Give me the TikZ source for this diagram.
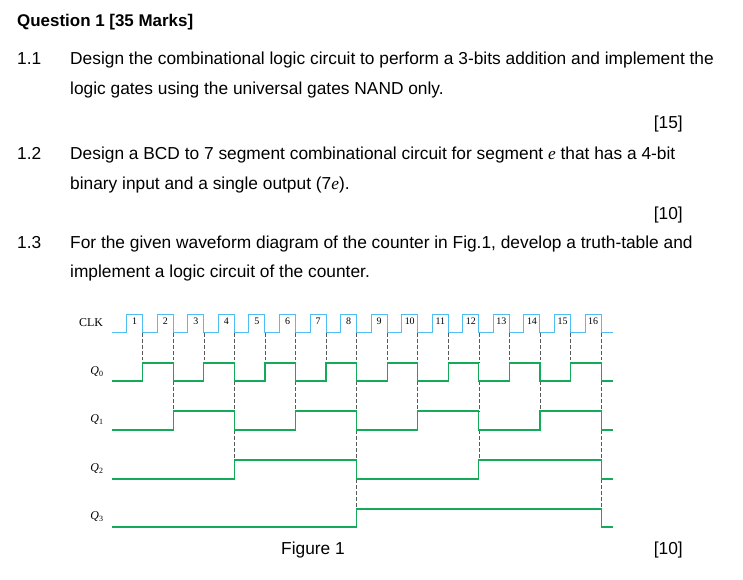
\documentclass[tikz,border=0pt]{standalone}
\usepackage{fontspec}
\setmainfont{Liberation Sans}
\newfontfamily\serf{Liberation Serif}
\begin{document}
\begin{tikzpicture}[x=1bp,y=-1bp,
  txt/.style={anchor=base west,inner sep=0pt,font=\fontsize{17.4}{20}\selectfont},
  mk/.style={anchor=base east,inner sep=0pt,font=\fontsize{17.4}{20}\selectfont},
  clk/.style={draw={rgb,255:red,80;green,190;blue,240},line width=1pt},
  sig/.style={draw={rgb,255:red,20;green,170;blue,90},line width=1.2pt},
  dsh/.style={draw=gray!70!black,line width=0.5pt,dash pattern=on 4pt off 2pt},
  lab/.style={inner sep=0pt,font=\serf\fontsize{12}{14}\selectfont},
  num/.style={inner sep=0pt,font=\serf\fontsize{10}{11}\selectfont}]
\useasboundingbox (0,0) rectangle (743,580);
\node[txt,font=\bfseries\fontsize{17}{20}\selectfont] (t) at (17,27) {Question 1 [35 Marks]};
\node[txt] (n1) at (17,65) {1.1};
\node[txt] (a1) at (70,65) {Design the combinational logic circuit to perform a 3-bits addition and implement the};
\node[txt] (a2) at (70,95) {logic gates using the universal gates NAND only.};
\node[mk] (m1) at (683,129) {[15]};
\node[txt] (n2) at (17,160) {1.2};
\node[txt] (b1) at (70,160) {Design a BCD to 7 segment combinational circuit for segment \textit{\serf e} that has a 4-bit};
\node[txt] (b2) at (70,190) {binary input and a single output (7\textit{\serf e}).};
\node[mk] (m2) at (683,220) {[10]};
\node[txt] (n3) at (17,248) {1.3};
\node[txt] (c1) at (70,248) {For the given waveform diagram of the counter in Fig.1, develop a truth-table and};
\node[txt] (c2) at (70,277) {implement a logic circuit of the counter.};
\node[txt] (f) at (281,554) {Figure 1};
\node[mk] (m3) at (683,554) {[10]};
% labels
\node[lab] (lc) at (91,323) {CLK};
\node[lab] (l0) at (97,372) {\textit{Q}\textsubscript{0}};
\node[lab] (l1) at (97,420) {\textit{Q}\textsubscript{1}};
\node[lab] (l2) at (97,469) {\textit{Q}\textsubscript{2}};
\node[lab] (l3) at (97,517) {\textit{Q}\textsubscript{3}};
% clock
\def\P{30.56}
\draw[clk] (112,332.6) foreach \k in {1,...,16}{
  -- ({142.7+(\k-1)*\P-16},332.6) -- ({142.7+(\k-1)*\P-16},314) -- ({142.7+(\k-1)*\P},314) -- ({142.7+(\k-1)*\P},332.6)} -- (613,332.6);
\foreach \k in {1,...,16}{
  \node[num] (c\k) at ({142.7+(\k-1)*\P-8},321.5) {\k};
  \draw[dsh] ({142.7+(\k-1)*\P},332.6) -- ({142.7+(\k-1)*\P},363);}
\foreach \k in {2,4,...,16} \draw[dsh] ({142.7+(\k-1)*\P},381) -- ({142.7+(\k-1)*\P},411);
\foreach \k in {4,8,12,16} \draw[dsh] ({142.7+(\k-1)*\P},430) -- ({142.7+(\k-1)*\P},460);
\foreach \k in {8,16} \draw[dsh] ({142.7+(\k-1)*\P},479) -- ({142.7+(\k-1)*\P},509);
% Q0
\draw[sig] (112,381) foreach \k in {1,3,...,15}{
  -- ({142.7+(\k-1)*\P},381) -- ({142.7+(\k-1)*\P},363) -- ({142.7+\k*\P},363) -- ({142.7+\k*\P},381)} -- (613,381);
\draw[sig] (112,430) foreach \k in {2,6,10,14}{
  -- ({142.7+(\k-1)*\P},430) -- ({142.7+(\k-1)*\P},411) -- ({142.7+(\k+1)*\P},411) -- ({142.7+(\k+1)*\P},430)} -- (613,430);
\draw[sig] (112,479) foreach \k in {4,12}{
  -- ({142.7+(\k-1)*\P},479) -- ({142.7+(\k-1)*\P},460) -- ({142.7+(\k+3)*\P},460) -- ({142.7+(\k+3)*\P},479)} -- (613,479);
\draw[sig] (112,527) -- ({142.7+7*\P},527) -- ({142.7+7*\P},509) -- ({142.7+15*\P},509) -- ({142.7+15*\P},527) -- (613,527);
\end{tikzpicture}
\end{document}
